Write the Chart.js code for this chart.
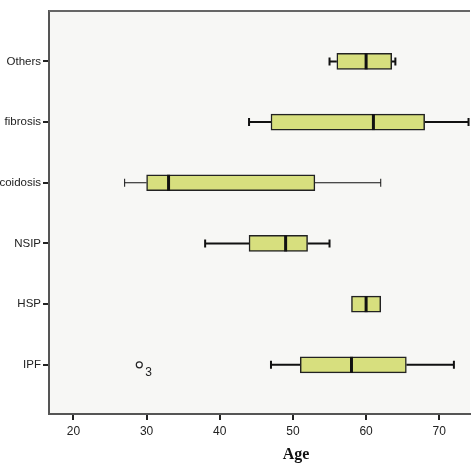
<!DOCTYPE html>
<html>
<head>
<meta charset="utf-8">
<script src="https://cdn.jsdelivr.net/npm/chart.js@4/dist/chart.umd.min.js"></script>
<style>
  html, body { margin: 0; padding: 0; background: #fff; overflow: hidden; }
  #wrap { width: 474px; height: 474px; }
</style>
</head>
<body>
<div id="wrap"><canvas id="box-chart"></canvas></div>
<script>
// groups, top to bottom
var groups = ['Others', 'fibrosis', 'Sarcoidosis', 'NSIP', 'HSP', 'IPF'];
// five-number summaries (age)
var whiskerLow = [55, 44, 27, 38, 58, 47];
var q1 = [56, 47, 30, 44, 58, 51];
var median = [60, 61, 33, 49, 60, 58];
var q3 = [63.5, 68, 53, 52, 62, 65.5];
var whiskerHigh = [64, 74, 62, 55, 62, 72];
// outliers
var outlierGroup = ['IPF'];
var outlierAge = [29];
var outlierCase = ['3'];
var xTicks = [20, 30, 40, 50, 60, 70];
var xMin = 16.66, xMax = 74.2;

var boxData = groups.map(function (g, i) {
    return {x: [q1[i], q3[i]], y: i};
});
var outlierData = outlierGroup.map(function (g, i) {
    return {x: outlierAge[i], y: groups.indexOf(g)};
});

var boxPlotPlugin = {
    id: 'boxPlot',
    beforeDraw: function (chart) {
        var ctx = chart.ctx, a = chart.chartArea;
        ctx.save();
        ctx.fillStyle = '#f7f7f5';
        ctx.fillRect(a.left, a.top, a.right - a.left, a.bottom - a.top);
        ctx.restore();
    },
    beforeDatasetsDraw: function (chart) {
        // whiskers under the boxes
        var ctx = chart.ctx, xs = chart.scales.x, ys = chart.scales.y;
        ctx.save();
        ctx.strokeStyle = '#111';
        groups.forEach(function (g, i) {
            var y = ys.getPixelForValue(i);
            ctx.lineWidth = (g === 'Sarcoidosis') ? 1 : 2;
            var lo = xs.getPixelForValue(whiskerLow[i]);
            var hi = xs.getPixelForValue(whiskerHigh[i]);
            if (whiskerLow[i] < q1[i]) {
                ctx.beginPath();
                ctx.moveTo(lo, y); ctx.lineTo(xs.getPixelForValue(q1[i]), y);
                ctx.moveTo(lo, y - 4); ctx.lineTo(lo, y + 4);
                ctx.stroke();
            }
            if (whiskerHigh[i] > q3[i]) {
                ctx.beginPath();
                ctx.moveTo(xs.getPixelForValue(q3[i]), y); ctx.lineTo(hi, y);
                ctx.moveTo(hi, y - 4); ctx.lineTo(hi, y + 4);
                ctx.stroke();
            }
        });
        ctx.restore();
    },
    afterDatasetsDraw: function (chart) {
        var ctx = chart.ctx, xs = chart.scales.x, ys = chart.scales.y;
        ctx.save();
        ctx.strokeStyle = '#111';
        ctx.lineWidth = 3;
        groups.forEach(function (g, i) {
            var y = ys.getPixelForValue(i);
            var m = xs.getPixelForValue(median[i]);
            ctx.beginPath();
            ctx.moveTo(m, y - 8); ctx.lineTo(m, y + 8);
            ctx.stroke();
        });
        // case numbers next to outliers
        ctx.fillStyle = '#222';
        ctx.font = '12px "Liberation Sans", Arial, sans-serif';
        ctx.textAlign = 'left';
        ctx.textBaseline = 'middle';
        outlierData.forEach(function (p, i) {
            ctx.fillText(outlierCase[i], xs.getPixelForValue(p.x) + 6, ys.getPixelForValue(p.y) + 8);
        });
        ctx.restore();
    },
    afterDraw: function (chart) {
        var ctx = chart.ctx, a = chart.chartArea;
        ctx.save();
        ctx.strokeStyle = '#666';
        ctx.lineWidth = 2;
        ctx.beginPath();
        ctx.moveTo(a.left, a.top); ctx.lineTo(a.right, a.top);
        ctx.stroke();
        ctx.fillStyle = '#111';
        ctx.font = 'bold 16px "Liberation Serif", "DejaVu Serif", serif';
        ctx.textAlign = 'center';
        ctx.textBaseline = 'middle';
        ctx.fillText('Age', 296, 455);
        ctx.restore();
    }
};

new Chart(document.getElementById('box-chart'), {
    type: 'bar',
    data: {
        datasets: [{
            label: 'box',
            data: boxData,
            backgroundColor: '#d7df7e',
            borderColor: '#222',
            borderWidth: 1.5,
            borderSkipped: false,
            barThickness: 16
        }, {
            type: 'scatter',
            label: 'outliers',
            data: outlierData,
            pointStyle: 'circle',
            pointRadius: 3,
            pointBorderWidth: 1.2,
            pointBorderColor: '#222',
            pointBackgroundColor: '#fff'
        }]
    },
    plugins: [boxPlotPlugin],
    options: {
        indexAxis: 'y',
        responsive: true,
        maintainAspectRatio: false,
        animation: false,
        // the scatter points would otherwise reserve a few px on the right
        layout: {autoPadding: false, padding: {top: 11, right: 0, left: 0, bottom: 0}},
        plugins: {
            legend: {display: false},
            tooltip: {enabled: false}
        },
        scales: {
            x: {
                type: 'linear',
                min: xMin,
                max: xMax,
                offset: false,
                // blank ticks at both ends keep the labels from adding side padding
                afterBuildTicks: function (scale) {
                    scale.ticks = [xMin].concat(xTicks, [xMax]).map(function (v) { return {value: v}; });
                },
                afterFit: function (scale) { scale.height = 60; },
                grid: {
                    drawOnChartArea: false, drawTicks: true, tickLength: 6, lineWidth: 2,
                    color: function (c) {
                        return (c.tick && xTicks.indexOf(c.tick.value) >= 0) ? '#222' : 'rgba(0,0,0,0)';
                    }
                },
                border: {display: true, color: '#555', width: 2},
                ticks: {
                    color: '#222',
                    padding: 4,
                    autoSkip: false,
                    maxRotation: 0,
                    font: {family: '"Liberation Sans", Arial, sans-serif', size: 12},
                    callback: function (v) { return xTicks.indexOf(v) >= 0 ? String(v) : ''; }
                }
            },
            y: {
                type: 'linear',
                reverse: true,
                min: -0.83,
                max: 5.81,
                offset: false,
                afterBuildTicks: function (scale) {
                    scale.ticks = groups.map(function (g, i) { return {value: i}; });
                },
                afterFit: function (scale) { scale.width = 49; },
                grid: {offset: false, drawOnChartArea: false, drawTicks: true, tickLength: 6, color: '#222', lineWidth: 2},
                border: {display: true, color: '#555', width: 2},
                ticks: {
                    color: '#222',
                    padding: 2,
                    autoSkip: false,
                    font: {family: '"Liberation Sans", Arial, sans-serif', size: 11.5},
                    callback: function (v) { return groups[v]; }
                }
            }
        }
    }
});
</script>
</body>
</html>
